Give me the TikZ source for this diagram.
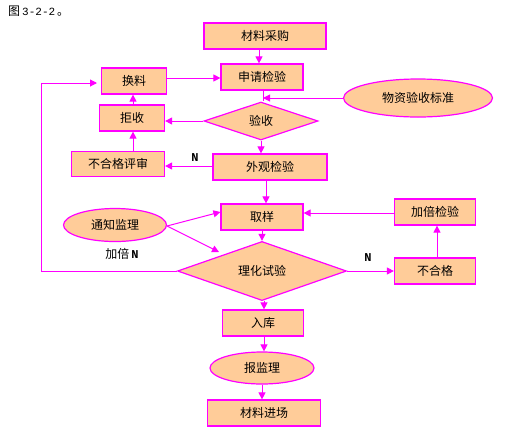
\documentclass[tikz,border=0pt]{standalone}
\usepackage{fontspec}
\setmainfont{Noto Sans CJK SC}
\newfontfamily\monofont{Liberation Mono}
\usetikzlibrary{shapes.geometric,arrows.meta}
\definecolor{mag}{HTML}{FF00FF}
\definecolor{peach}{HTML}{FFCC99}
\tikzset{
  box/.style={draw=mag,fill=peach,line width=1.2pt,inner sep=0pt,font=\fontsize{12}{12}\selectfont},
  rbox/.style={box,rectangle},
  dbox/.style={box,diamond},
  ebox/.style={box,ellipse},
  arr/.style={draw=mag,line width=1pt,-{Triangle[length=7pt,width=7pt]}},
  ln/.style={draw=mag,line width=1pt},
  lab/.style={font=\fontsize{12}{12}\selectfont,inner sep=0pt}
}
\begin{document}
\begin{tikzpicture}[x=1pt,y=-1pt]
\useasboundingbox (0,0) rectangle (505,432);
\node[lab,anchor=west] (title) at (8,11) {图\,{\monofont\fontsize{11}{11}\selectfont 3-2-2}\,。};
\node[rbox,minimum width=122pt,minimum height=26pt] (cg) at (265,36) {材料采购};
\node[rbox,minimum width=82pt,minimum height=26pt] (sq) at (262,77) {申请检验};
\node[rbox,minimum width=65pt,minimum height=26pt] (hl) at (134,81) {换料};
\node[rbox,minimum width=65pt,minimum height=26pt] (js) at (132,118) {拒收};
\node[dbox,minimum width=114pt,minimum height=38pt] (ys) at (261,121) {验收};
\node[ebox,minimum width=149pt,minimum height=38pt] (bz) at (418,98) {物资验收标准};
\node[rbox,minimum width=93pt,minimum height=25pt] (bh) at (118,164) {不合格评审};
\node[rbox,minimum width=114pt,minimum height=26pt] (wg) at (270,167) {外观检验};
\node[rbox,minimum width=82pt,minimum height=26pt] (qy) at (262,217) {取样};
\node[rbox,minimum width=81pt,minimum height=26pt] (jb) at (435,212) {加倍检验};
\node[ebox,minimum width=103pt,minimum height=33pt] (tz) at (115,225) {通知监理};
\node[dbox,minimum width=169pt,minimum height=50pt] (lh) at (262,271) {理化试验};
\node[rbox,minimum width=81pt,minimum height=26pt] (bhg) at (435,271) {不合格};
\node[rbox,minimum width=81pt,minimum height=26pt] (rk) at (263,323) {入库};
\node[ebox,minimum width=104pt,minimum height=32pt] (bj) at (262,368) {报监理};
\node[rbox,minimum width=113pt,minimum height=26pt] (jc) at (264,413) {材料进场};
% labels
\node[lab] (n1) at (195,158) {\monofont\bfseries N};
\node[lab] (n2) at (368,258) {\monofont\bfseries N};
\node[lab] (n3) at (122,254) {加倍\,{\monofont\bfseries N}};
% helper coordinates
\coordinate (bzt) at (263,98);
\coordinate (tzA) at (167,226);
\coordinate (tzB) at (219,252);
\coordinate (lpA) at (41,271);
\coordinate (lpB) at (41,83);
\coordinate (lpC) at (97,83);
% connectors
\draw[arr] (cg.south -| 259,0) -- (sq.north -| 259,0);
\draw[arr] (hl.east |- 0,78) -- (sq.west |- 0,78);
\draw[ln] (sq.south -| bzt) -- (ys.north -| bzt);
\draw[arr] (bz.west) -- (bzt);
\draw[arr] (ys.west) -- (ys.west -| js.east);
\draw[arr] (js.north -| 133,0) -- (hl.south -| 133,0);
\draw[arr] (ys.south) -- (ys.south |- wg.north);
\draw[arr] (wg.west |- 0,166) -- (bh.east |- 0,166);
\draw[arr] (bh.north -| 133,0) -- (js.south -| 133,0);
\draw[arr] (wg.south -| 266,0) -- (qy.north -| 266,0);
\draw[arr] (jb.west |- 0,213) -- (qy.east |- 0,213);
\draw[arr] (tzA) -- (qy.west |- 0,212);
\draw[arr] (tzA) -- (tzB);
\draw[arr] (qy.south) -- (lh.north);
\draw[arr] (lh.west) -- (lpA) -- (lpB) -- (lpC);
\draw[arr] (lh.east) -- (bhg.west);
\draw[arr] (bhg.north -| 437,0) -- (jb.south -| 437,0);
\draw[arr] (lh.south -| 264,0) -- (rk.north -| 264,0);
\draw[arr] (rk.south -| 264,0) -- (bj.north -| 264,0);
\draw[arr] (bj.south -| 262,0) -- (jc.north -| 262,0);
\end{tikzpicture}
\end{document}
